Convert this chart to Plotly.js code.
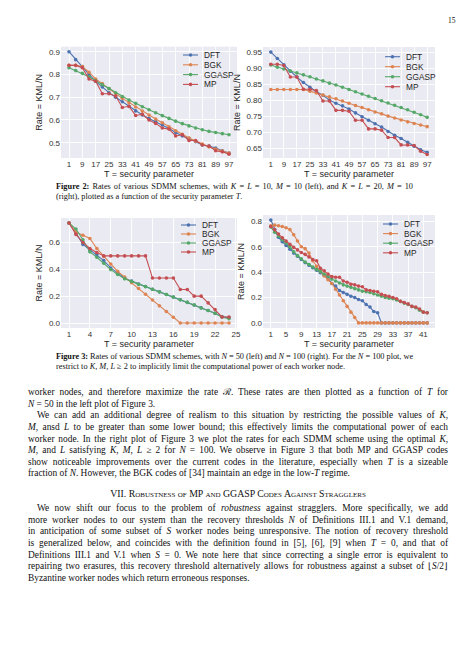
<!DOCTYPE html>
<html>
<head>
<meta charset="utf-8">
<script src="https://cdn.plot.ly/plotly-3.0.1.min.js"></script>
<style>
  html, body { margin: 0; padding: 0; background: #fff; }
  #page { position: relative; width: 474px; height: 670px; overflow: hidden; background: #fff; }
  #fig { position: absolute; left: 0; top: 0; width: 474px; height: 670px; }
  .txt { position: absolute; font-family: 'Liberation Serif', 'Times New Roman', serif; color: #111; }
  .ln { white-space: nowrap; text-align: justify; text-align-last: justify; }
  .ln.end { text-align-last: left; }
  .cap { left: 56px; width: 357px; font-size: 8.3px; line-height: 10.5px; }
  .body { left: 28px; width: 420px; font-size: 9.4px; line-height: 11.6px; }
  .ind { text-indent: 9px; }
  .head { left: 28px; width: 420px; text-align: center; font-size: 9.8px; font-variant: small-caps; }
</style>
</head>
<body>
<div id="page">
  <div id="fig"></div>

  <div class="txt" style="left:448px; top:16px; font-size:7.5px;">15</div>

  <div class="txt cap" style="top:181.5px;">
    <div class="ln"><b>Figure 2:</b> Rates of various SDMM schemes, with <i>K</i> = <i>L</i> = 10, <i>M</i> = 10 (left), and <i>K</i> = <i>L</i> = 20, <i>M</i> = 10</div>
    <div class="ln end">(right), plotted as a function of the security parameter <i>T</i>.</div>
  </div>

  <div class="txt cap" style="top:351.5px;">
    <div class="ln"><b>Figure 3:</b> Rates of various SDMM schemes, with <i>N</i> = 50 (left) and <i>N</i> = 100 (right). For the <i>N</i> = 100 plot, we</div>
    <div class="ln end">restrict to <i>K, M, L</i> ≥ 2 to implicitly limit the computational power of each worker node.</div>
  </div>

  <div class="txt body" style="top:387.2px;">
    <div class="ln">worker nodes, and therefore maximize the rate ℛ. These rates are then plotted as a function of <i>T</i> for</div>
    <div class="ln end"><i>N</i> = 50 in the left plot of Figure 3.</div>
    <div class="ln ind">We can add an additional degree of realism to this situation by restricting the possible values of <i>K</i>,</div>
    <div class="ln"><i>M</i>, ansd <i>L</i> to be greater than some lower bound; this effectively limits the computational power of each</div>
    <div class="ln">worker node. In the right plot of Figure 3 we plot the rates for each SDMM scheme using the optimal <i>K</i>,</div>
    <div class="ln"><i>M</i>, and <i>L</i> satisfying <i>K, M, L</i> ≥ 2 for <i>N</i> = 100. We observe in Figure 3 that both MP and GGASP codes</div>
    <div class="ln">show noticeable improvements over the current codes in the literature, especially when <i>T</i> is a sizeable</div>
    <div class="ln end">fraction of <i>N</i>. However, the BGK codes of [34] maintain an edge in the low-<i>T</i> regime.</div>
  </div>

  <div class="txt head" style="top:488px;">VII. Robustness of MP and GGASP Codes Against Stragglers</div>

  <div class="txt body" style="top:503.2px;">
    <div class="ln ind">We now shift our focus to the problem of <i>robustness</i> against stragglers. More specifically, we add</div>
    <div class="ln">more worker nodes to our system than the recovery thresholds <i>N</i> of Definitions III.1 and V.1 demand,</div>
    <div class="ln">in anticipation of some subset of <i>S</i> worker nodes being unresponsive. The notion of recovery threshold</div>
    <div class="ln">is generalized below, and coincides with the definition found in [5], [6], [9] when <i>T</i> = 0, and that of</div>
    <div class="ln">Definitions III.1 and V.1 when <i>S</i> = 0. We note here that since correcting a single error is equivalent to</div>
    <div class="ln">repairing two erasures, this recovery threshold alternatively allows for robustness against a subset of ⌊<i>S</i>/2⌋</div>
    <div class="ln end">Byzantine worker nodes which return erroneous responses.</div>
  </div>
</div>

<script>
// ---- data ----
// Figure 2: T = 1, 5, ..., 97
const tTop = [1, 5, 9, 13, 17, 21, 25, 29, 33, 37, 41, 45, 49, 53, 57, 61, 65, 69, 73, 77, 81, 85, 89, 93, 97];

// left: K = L = 10, M = 10
const dftA   = [0.900, 0.865, 0.835, 0.800, 0.770, 0.745, 0.720, 0.700, 0.680, 0.660, 0.640, 0.622, 0.607, 0.593, 0.578, 0.563, 0.545, 0.530, 0.520, 0.505, 0.490, 0.485, 0.477, 0.465, 0.455];
const bgkA   = [0.840, 0.840, 0.835, 0.810, 0.780, 0.760, 0.738, 0.716, 0.695, 0.676, 0.657, 0.639, 0.622, 0.604, 0.588, 0.570, 0.553, 0.537, 0.521, 0.507, 0.494, 0.482, 0.472, 0.463, 0.455];
const ggaspA = [0.830, 0.817, 0.805, 0.790, 0.772, 0.755, 0.738, 0.720, 0.703, 0.688, 0.673, 0.658, 0.645, 0.632, 0.619, 0.607, 0.595, 0.584, 0.574, 0.565, 0.557, 0.550, 0.545, 0.540, 0.535];
const mpA    = [0.840, 0.840, 0.830, 0.780, 0.770, 0.715, 0.715, 0.705, 0.655, 0.660, 0.620, 0.625, 0.600, 0.585, 0.565, 0.560, 0.530, 0.535, 0.510, 0.510, 0.490, 0.485, 0.465, 0.460, 0.450];

// right: K = L = 20, M = 10
const dftB   = [0.950, 0.930, 0.910, 0.890, 0.872, 0.855, 0.840, 0.826, 0.815, 0.800, 0.790, 0.782, 0.772, 0.760, 0.748, 0.737, 0.726, 0.716, 0.702, 0.690, 0.680, 0.668, 0.656, 0.645, 0.637];
const bgkB   = [0.833, 0.833, 0.833, 0.833, 0.833, 0.833, 0.828, 0.822, 0.816, 0.810, 0.804, 0.797, 0.790, 0.783, 0.777, 0.770, 0.763, 0.757, 0.750, 0.744, 0.738, 0.732, 0.727, 0.722, 0.717];
const ggaspB = [0.910, 0.903, 0.897, 0.891, 0.885, 0.879, 0.873, 0.866, 0.860, 0.853, 0.847, 0.840, 0.833, 0.826, 0.819, 0.812, 0.805, 0.798, 0.791, 0.784, 0.777, 0.770, 0.762, 0.754, 0.746];
const mpB    = [0.912, 0.912, 0.908, 0.872, 0.872, 0.834, 0.834, 0.830, 0.797, 0.797, 0.768, 0.768, 0.765, 0.737, 0.737, 0.710, 0.710, 0.706, 0.683, 0.683, 0.660, 0.660, 0.658, 0.640, 0.630];

// Figure 3 left: N = 50
const tC     = [1, 2, 3, 4, 5, 6, 7, 8, 9, 10, 11, 12, 13, 14, 15, 16, 17, 18, 19, 20, 21, 22, 23, 24];
const dftC   = [0.745, 0.670, 0.585, 0.545, 0.510, 0.465, 0.410, 0.370, 0.335, 0.312, 0.290, 0.272, 0.252, 0.232, 0.212, 0.193, 0.173, 0.154, 0.134, 0.113, 0.093, 0.072, 0.047, 0.040];
const bgkC   = [0.745, 0.678, 0.654, 0.629, 0.555, 0.495, 0.440, 0.385, 0.342, 0.300, 0.257, 0.214, 0.171, 0.128, 0.086, 0.043, 0.000, 0.000, 0.000, 0.000, 0.000, 0.000, 0.000, 0.000];
const ggaspC = [0.745, 0.700, 0.620, 0.530, 0.490, 0.445, 0.398, 0.361, 0.329, 0.310, 0.288, 0.271, 0.251, 0.232, 0.212, 0.193, 0.173, 0.154, 0.134, 0.112, 0.093, 0.073, 0.044, 0.032];
const mpC    = [0.745, 0.660, 0.600, 0.555, 0.525, 0.500, 0.500, 0.500, 0.500, 0.500, 0.500, 0.500, 0.335, 0.335, 0.335, 0.335, 0.250, 0.250, 0.200, 0.200, 0.150, 0.100, 0.045, 0.045];

// Figure 3 right: N = 100, K, M, L >= 2
const tD     = [1, 2, 3, 4, 5, 6, 7, 8, 9, 10, 11, 12, 13, 14, 15, 16, 17, 18, 19, 20, 21, 22, 23, 24, 25, 26, 27, 28, 29, 30, 31, 32, 33, 34, 35, 36, 37, 38, 39, 40, 41, 42];
const dftD   = [0.810, 0.735, 0.675, 0.640, 0.610, 0.580, 0.550, 0.525, 0.500, 0.475, 0.455, 0.435, 0.415, 0.395, 0.375, 0.355, 0.310, 0.290, 0.255, 0.240, 0.225, 0.210, 0.200, 0.185, 0.175, 0.145, 0.125, 0.090, 0.080, 0.000, 0.000, 0.000, 0.000, 0.000, 0.000, 0.000, 0.000, 0.000, 0.000, 0.000, 0.000, 0.000];
const bgkD   = [0.765, 0.770, 0.765, 0.760, 0.750, 0.735, 0.695, 0.645, 0.600, 0.585, 0.550, 0.490, 0.445, 0.405, 0.370, 0.340, 0.310, 0.265, 0.220, 0.175, 0.130, 0.085, 0.043, 0.000, 0.000, 0.000, 0.000, 0.000, 0.000, 0.000, 0.000, 0.000, 0.000, 0.000, 0.000, 0.000, 0.000, 0.000, 0.000, 0.000, 0.000, 0.000];
const ggaspD = [0.755, 0.715, 0.685, 0.655, 0.630, 0.600, 0.560, 0.530, 0.505, 0.480, 0.460, 0.440, 0.420, 0.405, 0.385, 0.370, 0.345, 0.330, 0.315, 0.300, 0.290, 0.280, 0.270, 0.260, 0.250, 0.245, 0.240, 0.230, 0.220, 0.210, 0.200, 0.195, 0.190, 0.180, 0.170, 0.155, 0.145, 0.130, 0.120, 0.100, 0.085, 0.080];
const mpD    = [0.760, 0.735, 0.700, 0.670, 0.645, 0.620, 0.595, 0.575, 0.555, 0.540, 0.520, 0.500, 0.490, 0.430, 0.410, 0.385, 0.365, 0.360, 0.360, 0.330, 0.320, 0.305, 0.300, 0.290, 0.285, 0.260, 0.255, 0.250, 0.245, 0.225, 0.215, 0.210, 0.200, 0.190, 0.170, 0.160, 0.150, 0.130, 0.125, 0.110, 0.085, 0.080];

const names  = ['DFT', 'BGK', 'GGASP', 'MP'];
const colors = ['#4C72B0', '#DD8452', '#55A868', '#C44E52'];

// ---- page geometry (px on a 474 x 670 page) ----
const W = 474, H = 670;
const fx = px => px / W;
const fy = py => 1 - py / H;

function line(x, y, i, xa, ya) {
    return {
        x: x, y: y, name: names[i], type: 'scatter', mode: 'lines+markers',
        xaxis: xa, yaxis: ya, showlegend: false, hoverinfo: 'skip',
        line: { color: colors[i], width: 1.1 },
        marker: { color: colors[i], size: 3.6 }
    };
}

const traces = [];
[[tTop, [dftA, bgkA, ggaspA, mpA], 'x', 'y'],
 [tTop, [dftB, bgkB, ggaspB, mpB], 'x2', 'y2'],
 [tC,   [dftC, bgkC, ggaspC, mpC], 'x3', 'y3'],
 [tD,   [dftD, bgkD, ggaspD, mpD], 'x4', 'y4']].forEach(p => {
    p[1].forEach((ys, i) => traces.push(line(p[0], ys, i, p[2], p[3])));
});

const tickFont = { size: 8, color: '#333333' };
const titleFont = { size: 9, color: '#262626' };

function xAxis(left, right, range, ticks, anchor) {
    return {
        domain: [fx(left), fx(right)], range: range, tickvals: ticks, anchor: anchor,
        ticks: '', showgrid: true, gridcolor: '#ffffff', gridwidth: 0.9,
        zeroline: false, showline: false, tickfont: tickFont,
        title: { text: 'T = security parameter', font: titleFont, standoff: 2 }
    };
}
function yAxis(top, bottom, range, ticks, fmt, anchor) {
    return {
        domain: [fy(bottom), fy(top)], range: range, tickvals: ticks, tickformat: fmt, anchor: anchor,
        ticks: '', showgrid: true, gridcolor: '#ffffff', gridwidth: 0.9,
        zeroline: false, showline: false, tickfont: tickFont,
        title: { text: 'Rate = KML/N', font: titleFont, standoff: 4 }
    };
}

const topTicks = [1, 9, 17, 25, 33, 41, 49, 57, 65, 73, 81, 89, 97];

// hand-drawn legends, matplotlib style (short sample, tight rows)
const shapes = [], annotations = [];
function legendBlock(x0, y0, step) {
    names.forEach((n, i) => {
        const y = y0 + i * step;
        shapes.push({ type: 'line', xref: 'paper', yref: 'paper',
            x0: fx(x0), x1: fx(x0 + 15), y0: fy(y), y1: fy(y),
            line: { color: colors[i], width: 1.1 } });
        shapes.push({ type: 'circle', xref: 'paper', yref: 'paper',
            x0: fx(x0 + 5.7), x1: fx(x0 + 9.3), y0: fy(y + 1.8), y1: fy(y - 1.8),
            fillcolor: colors[i], line: { width: 0 } });
        annotations.push({ text: n, xref: 'paper', yref: 'paper', x: fx(x0 + 19), y: fy(y),
            xanchor: 'left', yanchor: 'middle', showarrow: false,
            font: { size: 8.3, color: '#262626' } });
    });
}
legendBlock(183, 55, 9.8);
legendBlock(385, 56.7, 10);
legendBlock(181, 225, 9);
legendBlock(383, 224, 9.6);

const layout = {
    width: W, height: H,
    margin: { l: 0, r: 0, t: 0, b: 0 },
    paper_bgcolor: 'rgba(0,0,0,0)',
    plot_bgcolor: '#EAEAF2',
    font: { family: 'Liberation Sans, Arial, sans-serif', color: '#262626' },
    showlegend: false,
    xaxis:  xAxis(61, 237, [-3.8, 101.8], topTicks, 'y'),
    yaxis:  yAxis(46.7, 158, [0.433, 0.922], [0.5, 0.6, 0.7, 0.8, 0.9], '.1f', 'x'),
    xaxis2: xAxis(263, 435, [-3.8, 101.8], topTicks, 'y2'),
    yaxis2: yAxis(47, 158, [0.619, 0.966], [0.65, 0.7, 0.75, 0.8, 0.85, 0.9, 0.95], '.2f', 'x2'),
    xaxis3: xAxis(61, 237, [-0.15, 25.15], [1, 4, 7, 10, 13, 16, 19, 22, 25], 'y3'),
    yaxis3: yAxis(218, 328, [-0.037, 0.782], [0, 0.2, 0.4, 0.6], '.1f', 'x3'),
    xaxis4: xAxis(263, 435, [-1.05, 44.05], [1, 5, 9, 13, 17, 21, 25, 29, 33, 37, 41], 'y4'),
    yaxis4: yAxis(215, 328, [-0.04, 0.85], [0, 0.2, 0.4, 0.6, 0.8], '.1f', 'x4'),
    shapes: shapes,
    annotations: annotations
};

Plotly.newPlot('fig', traces, layout, { displayModeBar: false, staticPlot: true });

// keep each printed line on one row: squeeze the spacing if a line runs long
document.querySelectorAll('.ln').forEach(el => {
    let ls = 0;
    while (el.scrollWidth > el.clientWidth + 0.5 && ls > -0.6) {
        ls -= 0.05;
        el.style.letterSpacing = ls + 'px';
    }
});
</script>
</body>
</html>
